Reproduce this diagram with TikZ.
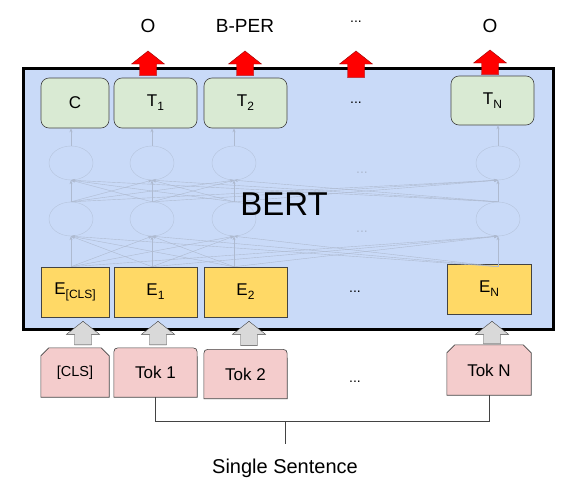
\documentclass[tikz,border=0pt]{standalone}
\usepackage{fontspec}
\setmainfont{Liberation Sans}
\usetikzlibrary{arrows.meta, calc, shapes.geometric, backgrounds, positioning}

\definecolor{bertblue}{HTML}{C9DAF8}
\definecolor{outgreen}{HTML}{D9EAD3}
\definecolor{embyellow}{HTML}{FFD966}
\definecolor{tokpink}{HTML}{F4CCCC}
\definecolor{arrowgrey}{HTML}{D9D9D9}
\definecolor{edgegrey}{HTML}{434343}
\definecolor{faintline}{HTML}{AEBAD0}
\definecolor{faintnode}{HTML}{B5C3DB}

% lowered subscript in the main font
\newcommand\sub[1]{\raisebox{-4pt}{\fontsize{12}{12}\selectfont #1}}

% block arrow pointing up: style, tail, tip
\newcommand\blockarrow[3]{%
  \path[#1] let \p1=#2, \p2=#3 in
    (\x1-8.5pt,\y1) -- (\x1-8.5pt,\y2-13pt) -- (\x1-16.5pt,\y2-13pt) -- (\x1,\y2)
    -- (\x1+16.5pt,\y2-13pt) -- (\x1+8.5pt,\y2-13pt) -- (\x1+8.5pt,\y1) -- cycle;}

\begin{document}
\begin{tikzpicture}[x=1pt, y=-1pt, >={Stealth[length=4pt, width=3pt]},
  outbox/.style={draw=edgegrey, semithick, fill=outgreen, rounded corners=8pt, minimum width=83pt, minimum height=50pt, inner sep=0pt, font=\fontsize{17}{20}\selectfont},
  embbox/.style={draw=edgegrey, semithick, fill=embyellow, minimum width=83pt, minimum height=50pt, inner sep=0pt, font=\fontsize{17}{20}\selectfont},
  tokbox/.style={minimum width=83pt, minimum height=49pt, inner sep=0pt, font=\fontsize{17}{20}\selectfont},
  tokshape/.style={draw=edgegrey, semithick, fill=tokpink},
  hidnode/.style={ellipse, draw=faintnode, thin, minimum width=44pt, minimum height=34pt, inner sep=0pt},
  hidlink/.style={->, draw=faintline, thin},
  tagtext/.style={font=\fontsize{19}{22}\selectfont},
  dots/.style={font=\fontsize{14}{16}\selectfont},
  redarrow/.style={draw=red!60!black, fill=red, thin},
  greyarrow/.style={draw=edgegrey, fill=arrowgrey, thin}]

    \useasboundingbox (0,0) rectangle (568,490);

    % Main box
    \node[draw, line width=3pt, fill=bertblue, minimum width=530pt, minimum height=261pt, inner sep=0pt] (bert) at (288,198.5) {};

    % Output row
    \node[outbox, minimum width=68pt] (c) at (75,103) {C};
    \node[outbox] (t1) at (155.5,103) {T\sub{1}};
    \node[outbox] (t2) at (245.5,103) {T\sub{2}};
    \node[dots] (tdots) at (356,103) {...};
    \node[outbox, minimum height=49pt] (tN) at (492.5,100.5) {T\sub{N}};

    % Embedding row
    \node[embbox, minimum width=68pt] (ecls) at (75,292) {E\sub{[CLS]}};
    \node[embbox] (e1) at (155.5,292) {E\sub{1}};
    \node[embbox] (e2) at (245.5,292) {E\sub{2}};
    \node[dots] (edots) at (355,292) {...};
    \node[embbox, minimum width=84pt] (eN) at (489,289) {E\sub{N}};

    % Hidden layers
    \foreach \c/\x in {1/71, 2/152, 3/234, 4/498} {
        \node[hidnode] (up\c) at (\x,163) {};
        \node[hidnode] (lo\c) at (\x,219) {};
    }
    \foreach \i in {1,...,4} {
        \foreach \j in {1,...,4} {
            \draw[hidlink] (lo\i.south |- ecls.north) -- (lo\j.south);
            \draw[hidlink] (lo\i.north) -- (up\j.south);
        }
    }
    \foreach \c/\t in {1/c, 2/t1, 3/t2, 4/tN}
        \draw[hidlink] (up\c.north) -- (up\c.north |- \t.south);
    \node[dots, text=faintline] (updots) at (362,173) {...};
    \node[dots, text=faintline] (lodots) at (362,232) {...};

    \node[font=\fontsize{33}{38}\selectfont] (bertname) at (284,204) {BERT};

    % Output tags
    \node[tagtext] (o1) at (148,26) {O};
    \node[tagtext] (o2) at (245,26) {B-PER};
    \node[dots] (odots) at (356,22) {...};
    \node[tagtext] (oN) at (490,26) {O};

    \blockarrow{redarrow}{($(o1 |- t1.north)+(0,-2)$)}{($(o1.center)+(0,25)$)}
    \blockarrow{redarrow}{($(o2 |- t2.north)+(0,-2)$)}{($(o2.center)+(0,25)$)}
    \blockarrow{redarrow}{(odots |- t1.north)}{($(odots.center)+(0,29)$)}
    \blockarrow{redarrow}{($(oN |- tN.north)+(0,-1)$)}{($(oN.center)+(0,24)$)}

    % Input tokens
    \node[tokbox, minimum width=68pt, font=\fontsize{14.5}{17}\selectfont] (tcls) at (75,372.5) {[CLS]};
    \node[tokbox] (tok1) at (155.5,372.5) {Tok 1};
    \node[tokbox] (tok2) at (245.5,374) {Tok 2};
    \node[dots] (tokdots) at (355,382) {...};
    \node[tokbox, minimum width=84pt, minimum height=50pt] (tokN) at (489,370) {Tok N};

    \begin{scope}[on background layer]
        \foreach \k in {tcls, tokN}
            \draw[tokshape] (\k.south west) -- ($(\k.north west)+(0,8)$) -- ($(\k.north west)+(8,0)$)
                -- ($(\k.north east)+(-8,0)$) -- ($(\k.north east)+(0,8)$) -- (\k.south east) -- cycle;
        \foreach \k in {tok1, tok2}
            \draw[tokshape] (\k.south west) -- ($(\k.north west)+(0,9)$) .. controls (\k.north west) .. ($(\k.north west)+(9,0)$)
                -- ($(\k.north east)+(-9,0)$) .. controls (\k.north east) .. ($(\k.north east)+(0,9)$) -- (\k.south east) -- cycle;
    \end{scope}

    \blockarrow{greyarrow}{($(tcls.north)+(8,-3)$)}{($(ecls.south)+(8,4)$)}
    \blockarrow{greyarrow}{($(tok1.north)+(2.5,-3)$)}{($(e1.south)+(2.5,4)$)}
    \blockarrow{greyarrow}{($(tok2.north)+(3.5,-4)$)}{($(e2.south)+(3.5,4)$)}
    \blockarrow{greyarrow}{($(tokN.north)+(3,-1)$)}{($(eN.south)+(3,7)$)}

    % Sentence bracket
    \coordinate (brk) at ($(tok1.south)+(0,24)$);
    \draw[edgegrey, semithick] (tok1.south) -- (brk) -| (tokN.south);
    \node[font=\fontsize{20}{24}\selectfont] (sentence) at (285,468) {Single Sentence};
    \draw[edgegrey, semithick] (sentence |- brk) -- ++(0,23);
\end{tikzpicture}
\end{document}
